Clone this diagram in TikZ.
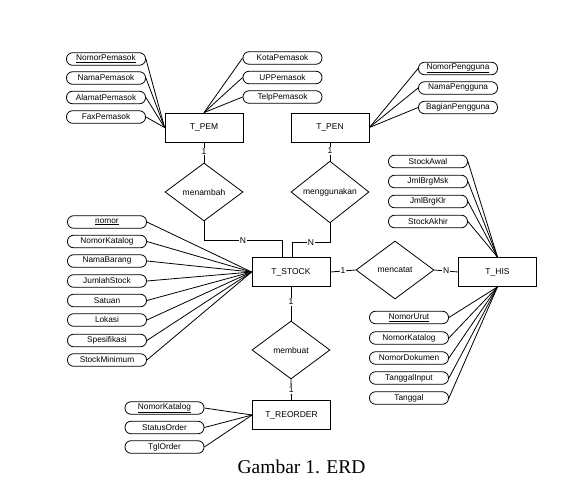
\documentclass[tikz,border=0pt]{standalone}
\usepackage{fontspec}
\setmainfont{Liberation Serif}
\newfontfamily\arialf{Liberation Sans}
\usetikzlibrary{shapes.geometric}
\begin{document}
\begin{tikzpicture}[x=1pt,y=-1pt, line width=0.8pt,
  ent/.style={draw, minimum width=78pt, minimum height=29pt, inner sep=0pt, font=\arialf\fontsize{8.5}{10}\selectfont},
  attr/.style={draw, rounded corners=6pt, minimum width=79pt, minimum height=12.5pt, inner sep=0pt, font=\arialf\fontsize{8.3}{9}\selectfont},
  rel/.style={draw, diamond, minimum width=78pt, minimum height=58pt, inner sep=0pt, font=\arialf\fontsize{8.5}{10}\selectfont},
  card/.style={fill=white, inner sep=1pt, font=\arialf\fontsize{8.5}{10}\selectfont},
  conn/.style={line width=0.8pt}]
\useasboundingbox (0,0) rectangle (582,486);

% entities
\node[ent] (pem) at (204,127.5) {T\_PEM};
\node[ent] (pen) at (330,127.5) {T\_PEN};
\node[ent] (stock) at (291,272) {T\_STOCK};
\node[ent] (his) at (497.5,272) {T\_HIS};
\node[ent] (reorder) at (291.5,415) {T\_REORDER};

% relationships
\node[rel] (menambah) at (204,192) {menambah};
\node[rel] (menggunakan) at (330,192) {menggunakan};
\node[rel] (mencatat) at (395,270) {mencatat};
\node[rel] (membuat) at (291,350) {membuat};

% T_PEM attributes
\node[attr] (a1) at (106,59) {\underline{NomorPemasok}};
\node[attr] (a2) at (106,78) {NamaPemasok};
\node[attr] (a3) at (106,97.5) {AlamatPemasok};
\node[attr] (a4) at (106,117) {FaxPemasok};
\node[attr] (a5) at (282.5,58) {KotaPemasok};
\node[attr] (a6) at (282.5,77.5) {UPPemasok};
\node[attr] (a7) at (282.5,97) {TelpPemasok};
\foreach \a in {a1,a2,a3,a4} \draw[conn] (\a.east) -- (pem.west);
\foreach \a in {a5,a6,a7} \draw[conn] (\a.west) -- (pem.north);

% T_PEN attributes
\node[attr] (b1) at (458,68.5) {\underline{NomorPengguna}};
\node[attr] (b2) at (458,88) {NamaPengguna};
\node[attr] (b3) at (458,107.5) {BagianPengguna};
\foreach \a in {b1,b2,b3} \draw[conn] (\a.west) -- (pen.east);

% T_STOCK attributes
\node[attr] (c1) at (107,222) {\underline{nomor}};
\node[attr] (c2) at (107,241.5) {NomorKatalog};
\node[attr] (c3) at (107,261) {NamaBarang};
\node[attr] (c4) at (107,281) {JumlahStock};
\node[attr] (c5) at (107,300.5) {Satuan};
\node[attr] (c6) at (107,320) {Lokasi};
\node[attr] (c7) at (107,340.5) {Spesifikasi};
\node[attr] (c8) at (107,360) {StockMinimum};
\foreach \a in {c1,c2,c3,c4,c5,c6,c7,c8} \draw[conn] (\a.east) -- (stock.west);

% T_HIS attributes
\node[attr] (d1) at (428,161.5) {StockAwal};
\node[attr] (d2) at (428,181.5) {JmlBrgMsk};
\node[attr] (d3) at (428,201.5) {JmlBrgKlr};
\node[attr] (d4) at (428,221.5) {StockAkhir};
\foreach \a in {d1,d2,d3,d4} \draw[conn] (\a.east) -- (his.north);
\node[attr] (e1) at (409,317.5) {\underline{NomorUrut}};
\node[attr] (e2) at (409,338) {NomorKatalog};
\node[attr] (e3) at (409,358) {NomorDokumen};
\node[attr] (e4) at (409,378) {TanggalInput};
\node[attr] (e5) at (409,398) {Tanggal};
\foreach \a in {e1,e2,e3,e4,e5} \draw[conn] (\a.east) -- (his.south);

% T_REORDER attributes
\node[attr] (f1) at (164.5,408) {\underline{NomorKatalog}};
\node[attr] (f2) at (164.5,427.5) {StatusOrder};
\node[attr] (f3) at (164.5,447) {TglOrder};
\foreach \a in {f1,f2,f3} \draw[conn] (\a.east) -- (reorder.west);

% relationships connectors
\draw[conn] (pem.south) -- (menambah.north) node[card, pos=0.45] {1};
\draw[conn] (pen.south) -- (menggunakan.north) node[card, pos=0.45] {1};
\draw[conn] (menambah.south) -- ++(0,19) -| ([xshift=-9pt]stock.north) node[card, pos=0.25] {N};
\draw[conn] (menggunakan.south) -- ++(0,19) -| ([xshift=1pt]stock.north) node[card, pos=0.25] {N};
\draw[conn] (stock.east) -- (mencatat.west) node[card, midway] {1};
\draw[conn] (mencatat.east) -- (his.west) node[card, midway] {N};
\draw[conn] (stock.south) -- (membuat.north) node[card, pos=0.45] {1};
\draw[conn] (membuat.south) -- (reorder.north) node[card, midway] {1};

% caption
\node (cap) at (301.5,467) {\fontsize{19.5}{22}\selectfont Gambar 1. ERD};
\end{tikzpicture}
\end{document}
